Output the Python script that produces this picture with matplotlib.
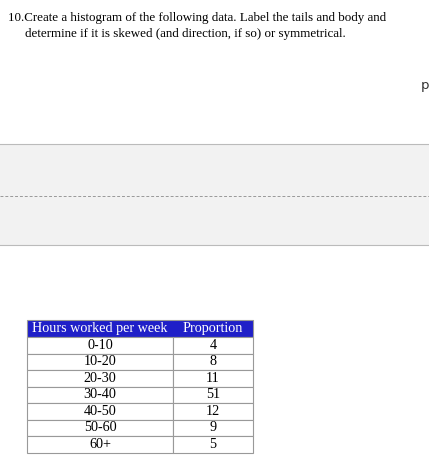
import matplotlib.pyplot as plt
from matplotlib.patches import Rectangle

hours = ["0-10", "10-20", "20-30", "30-40", "40-50", "50-60", "60+"]
proportion = [4, 8, 11, 51, 12, 9, 5]
headers = ["Hours worked per week", "Proportion"]

plt.rcParams['font.family'] = ['Liberation Serif', 'DejaVu Serif']

fig = plt.figure(figsize=(4.29, 4.72), dpi=100)
ax = fig.add_axes([0, 0, 1, 1])
ax.set_xlim(0, 429)
ax.set_ylim(472, 0)
ax.axis('off')

# question text
ax.text(8, 18, "10.Create a histogram of the following data. Label the tails and body and",
        fontsize=9.4, va='center')
ax.text(25, 34, "determine if it is skewed (and direction, if so) or symmetrical.",
        fontsize=9.4, va='center')
ax.text(421, 86, "p", fontsize=9.6, va='center', family='DejaVu Sans', color='#333333')

# gray answer band
ax.add_patch(Rectangle((0, 144), 429, 101, facecolor='#f2f2f2', edgecolor='none'))
ax.plot([0, 429], [144, 144], color='#bbbbbb', lw=0.8)
ax.plot([0, 429], [245, 245], color='#bbbbbb', lw=0.8)
ax.plot([0, 429], [196, 196], color='#999999', lw=0.7, ls=(0, (3, 2)))

# table
x0, xm, x1 = 27, 173, 253
top, head_h, row_h = 320, 17, 16.5
fs = 10.2
ax.add_patch(Rectangle((x0, top), x1 - x0, head_h, facecolor='#1f1fc8', edgecolor='#999999', lw=0.8))
ax.text((x0 + xm) / 2, top + head_h / 2, headers[0], color='white', fontsize=fs, ha='center', va='center')
ax.text((xm + x1) / 2, top + head_h / 2, headers[1], color='white', fontsize=fs, ha='center', va='center')
for i, (h, p) in enumerate(zip(hours, proportion)):
    y = top + head_h + i * row_h
    ax.add_patch(Rectangle((x0, y), xm - x0, row_h, facecolor='white', edgecolor='#999999', lw=0.8))
    ax.add_patch(Rectangle((xm, y), x1 - xm, row_h, facecolor='white', edgecolor='#999999', lw=0.8))
    ax.text((x0 + xm) / 2, y + row_h / 2, h, fontsize=fs, ha='center', va='center')
    ax.text((xm + x1) / 2, y + row_h / 2, str(p), fontsize=fs, ha='center', va='center')

fig.savefig("out.png", dpi=100)
